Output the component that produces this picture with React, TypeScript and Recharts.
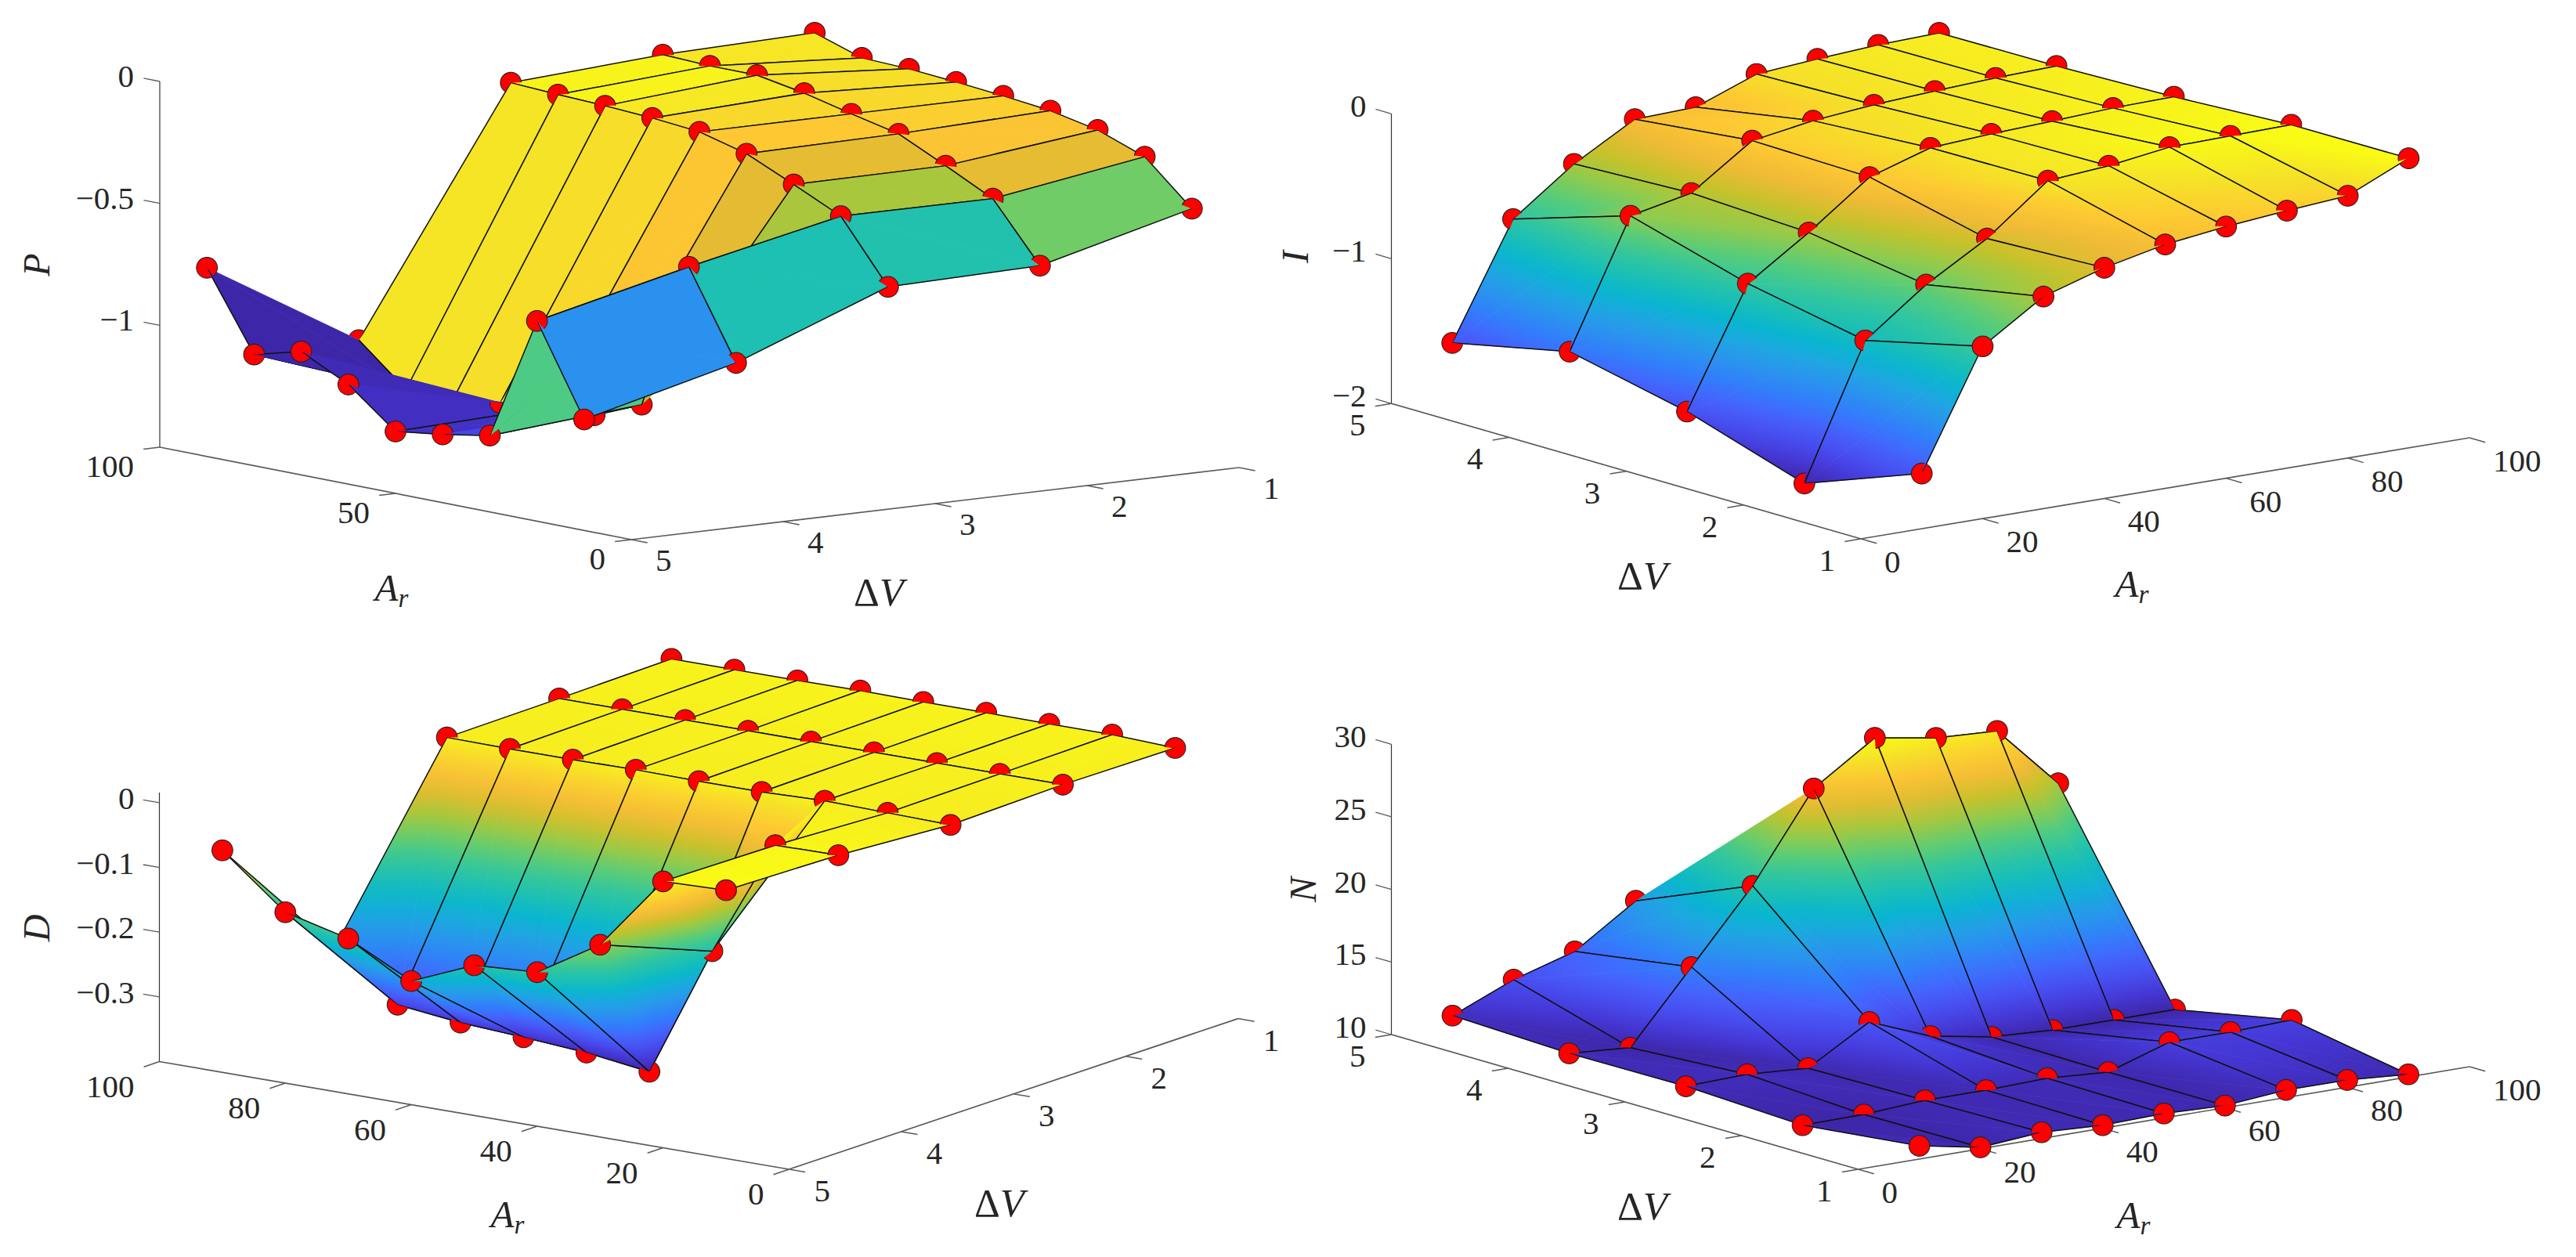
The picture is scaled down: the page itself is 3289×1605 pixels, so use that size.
import { Scatter, ScatterChart, XAxis, YAxis } from 'recharts';

const arValues = [10, 20, 30, 40, 50, 60, 70, 80, 90];
const dvValues = [1, 2, 3, 4, 5];

// surface heights, one row per dV (1..5), one column per Ar (10..90)
const pValues = [
  [-0.476, -0.301, -0.229, -0.188, -0.165, -0.146, -0.13, -0.123, -0.058],
  [-0.636, -0.399, -0.302, -0.209, -0.165, -0.118, -0.082, -0.082, -0.074],
  [-0.649, -0.397, -0.305, -0.217, -0.165, -0.146, -0.134, -0.126, -0.115],
  [-0.887, -0.531, -1.134, -1.215, -1.222, -1.24, -1.264, -1.262, -1.097],
  [-1.045, -0.679, -1.187, -1.22, -1.246, -1.091, -0.994, -1.044, -0.726],
];
const iValues = [
  [-1.619, -0.811, -0.537, -0.408, -0.317, -0.263, -0.223, -0.19, -0.001],
  [-1.921, -1.004, -0.688, -0.44, -0.11, -0.077, -0.018, -0.01, -0.003],
  [-1.658, -0.845, -0.562, -0.249, -0.117, -0.09, -0.072, -0.051, -0.043],
  [-1.478, -0.61, -0.523, -0.231, -0.163, -0.123, -0.098, -0.077, -0.064],
  [-1.651, -0.866, -0.555, -0.316, -0.303, -0.144, -0.109, -0.082, -0.069],
];
const dValues = [
  [0.0015, 0.0055, 0.0055, 0.006, 0.006, 0.007, 0.006, 0.006, 0.006],
  [0.003, 0.003, 0.003, 0.003, 0.003, 0.003, 0.003, 0.003, 0.003],
  [-0.001, 0.001, 0.003, 0, 0, 0.001, 0, 0, 0.001],
  [0.0104, 0.0092, -0.171, -0.374, -0.361, -0.354, -0.348, -0.337, -0.266],
  [0.0145, 0.0115, -0.103, -0.162, -0.168, -0.209, -0.16, -0.136, -0.057],
];
const nValues = [
  [10.91, 10.1, 10.43, 10.21, 10.31, 10.15, 10.52, 10.5, 10.18],
  [10.01, 10.04, 10.31, 10.3, 10.42, 10.13, 11.49, 11.48, 11.61],
  [10.37, 10.49, 10.2, 12.68, 11.0, 10.24, 10, 10, 10],
  [10.32, 10, 14.85, 19.74, 25.74, 28.52, 27.81, 27.58, 23.27],
  [10.6, 12.37, 13.61, 16.39, 15.2, 14, 13, 12.5, 12],
];

const parulaStops = [
  [62, 38, 168], [69, 55, 213], [72, 77, 240], [69, 99, 253], [50, 124, 252], [43, 145, 239],
  [32, 165, 227], [8, 181, 208], [25, 191, 182], [49, 198, 159], [87, 204, 122], [143, 203, 78],
  [197, 194, 42], [240, 186, 54], [254, 200, 51], [245, 227, 39], [249, 251, 21],
];

const serif = '"Liberation Serif", serif';
const markerRadius = 13.3;
const tickLength = 21;
// height counts for more than the plain view geometry when a marker is cut by the surface
const cutHeightWeight = 3;

type Vec = [number, number];

type Panel = {
  id: string;
  title: string;
  values: number[][];
  box: [number, number, number, number];
  origin: Vec;
  arVec: Vec;
  dvVec: Vec;
  zVec: Vec;
  nearDv: number;
  zDomain: [number, number];
  arTicks: number[];
  dvTicks: number[];
  zTicks: number[];
  flat: boolean;
  splitFromFirstCorner: boolean;
  hiddenCrossEdges: string[];
  arLabel: { dx: number; dy: number; anchor: string };
  dvLabel: { dx: number; dy: number; anchor: string };
  zLabel: { dx: number; dy: number };
  titlePos: Vec;
  arTitlePos: Vec;
  dvTitlePos: Vec;
};

const panels: Panel[] = [
  {
    id: 'p', title: 'P', values: pValues, box: [0, 0, 1660, 800],
    origin: [806, 689], arVec: [-602, -118], dvVec: [776, -92], zVec: [0, -467],
    nearDv: 5, zDomain: [-1.5, 0],
    arTicks: [0, 50, 100], dvTicks: [1, 2, 3, 4, 5], zTicks: [0, -0.5, -1],
    flat: true, splitFromFirstCorner: true, hiddenCrossEdges: ['3-8', '3-6', '3-5', '3-3'],
    arLabel: { dx: -33, dy: 38, anchor: 'end' }, dvLabel: { dx: 31, dy: 40, anchor: 'start' }, zLabel: { dx: -33, dy: 7 },
    titlePos: [48, 338], arTitlePos: [500, 752], dvTitlePos: [1122, 758],
  },
  {
    id: 'i', title: 'I', values: iValues, box: [1600, 0, 1689, 800],
    origin: [2376, 688], arVec: [777, -129], dvVec: [-599.5, -172.7], zVec: [0, -370],
    nearDv: 1, zDomain: [-2, 0],
    arTicks: [0, 20, 40, 60, 80, 100], dvTicks: [1, 2, 3, 4, 5], zTicks: [0, -1, -2],
    flat: false, splitFromFirstCorner: false, hiddenCrossEdges: [],
    arLabel: { dx: 30, dy: 43, anchor: 'start' }, dvLabel: { dx: -33, dy: 41, anchor: 'end' }, zLabel: { dx: -32, dy: 4 },
    titlePos: [1655, 328], arTitlePos: [2722, 747], dvTitlePos: [2097, 737],
  },
  {
    id: 'd', title: 'D', values: dValues, box: [0, 800, 1660, 805],
    origin: [1007.4, 1493], arVec: [-803.9, -137.5], dvVec: [573.4, -192.4], zVec: [0, -343.5],
    nearDv: 5, zDomain: [-0.4, 0.0156],
    arTicks: [0, 20, 40, 60, 80, 100], dvTicks: [1, 2, 3, 4, 5], zTicks: [0, -0.1, -0.2, -0.3],
    flat: false, splitFromFirstCorner: false, hiddenCrossEdges: [],
    arLabel: { dx: -32, dy: 45, anchor: 'end' }, dvLabel: { dx: 32, dy: 41, anchor: 'start' }, zLabel: { dx: -32, dy: 8 },
    titlePos: [48, 1185], arTitlePos: [648, 1552], dvTitlePos: [1276, 1538],
  },
  {
    id: 'n', title: 'N', values: nValues, box: [1600, 800, 1689, 805],
    origin: [2372.5, 1493], arVec: [780.5, -131], dvVec: [-596, -172], zVec: [0, -370.7],
    nearDv: 1, zDomain: [10, 30],
    arTicks: [0, 20, 40, 60, 80, 100], dvTicks: [1, 2, 3, 4, 5], zTicks: [10, 15, 20, 25, 30],
    flat: false, splitFromFirstCorner: false, hiddenCrossEdges: [],
    arLabel: { dx: 30, dy: 43, anchor: 'start' }, dvLabel: { dx: -33, dy: 41, anchor: 'end' }, zLabel: { dx: -32, dy: 4 },
    titlePos: [1665, 1136], arTitlePos: [2724, 1553], dvTitlePos: [2097, 1542],
  },
];

const parula = (f: number) => {
  const t = Math.min(Math.max(f, 0), 1) * (parulaStops.length - 1);
  const k = Math.min(Math.floor(t), parulaStops.length - 2);
  const w = t - k;
  const c = parulaStops[k].map((v, n) => Math.round(v + (parulaStops[k + 1][n] - v) * w));
  return `rgb(${c[0]},${c[1]},${c[2]})`;
};

const project = (p: Panel, ar: number, dv: number, z: number): Vec => {
  const farDv = p.nearDv === 5 ? 1 : 5;
  const ta = ar / 100;
  const tb = (dv - p.nearDv) / (farDv - p.nearDv);
  const tc = (z - p.zDomain[0]) / (p.zDomain[1] - p.zDomain[0]);
  return [
    p.origin[0] + ta * p.arVec[0] + tb * p.dvVec[0] + tc * p.zVec[0],
    p.origin[1] + ta * p.arVec[1] + tb * p.dvVec[1] + tc * p.zVec[1],
  ];
};

// depth row of the orthographic view, larger means closer to the camera
const depthRow = (p: Panel) => {
  const dot = (u: Vec, v: Vec) => u[0] * v[0] + u[1] * v[1];
  const ab = dot(p.arVec, p.dvVec);
  const ac = dot(p.arVec, p.zVec);
  const bc = dot(p.dvVec, p.zVec);
  const dc = Math.sqrt((ac * bc) / -ab);
  return { da: -ac / dc, db: -bc / dc, dc };
};

const makeGrid = (p: Panel) => {
  const { da, db, dc } = depthRow(p);
  const farDv = p.nearDv === 5 ? 1 : 5;
  return p.values.map((row, j) =>
    row.map((z, i) => {
      const [x, y] = project(p, arValues[i], dvValues[j], z);
      const base = (da * arValues[i]) / 100 + (db * (dvValues[j] - p.nearDv)) / (farDv - p.nearDv);
      const rise = (dc * (z - p.zDomain[0])) / (p.zDomain[1] - p.zDomain[0]);
      return { x, y, z, depth: base + rise, cutDepth: base + cutHeightWeight * rise };
    })
  );
};

type GridPoint = ReturnType<typeof makeGrid>[number][number];
type Cut = { start: number; sweep: number };

// screen angles of a vertex disc that a neighbouring triangle hides
const hiddenSector = (v: GridPoint, a: GridPoint, b: GridPoint): Cut | null => {
  const da = a.cutDepth - v.cutDepth;
  const db = b.cutDepth - v.cutDepth;
  if (da <= 0 && db <= 0) return null;
  const ang = (q: Vec) => Math.atan2(q[1], q[0]);
  const pa: Vec = [a.x - v.x, a.y - v.y];
  const pb: Vec = [b.x - v.x, b.y - v.y];
  let from = pa;
  let to = pb;
  if (da > 0 && db <= 0) {
    const t = da / (da - db);
    to = [pa[0] + t * (pb[0] - pa[0]), pa[1] + t * (pb[1] - pa[1])];
  } else if (da <= 0 && db > 0) {
    const t = db / (db - da);
    from = pb;
    to = [pb[0] + t * (pa[0] - pb[0]), pb[1] + t * (pa[1] - pb[1])];
  }
  const start = ang(from);
  let sweep = ang(to) - start;
  while (sweep > Math.PI) sweep -= 2 * Math.PI;
  while (sweep < -Math.PI) sweep += 2 * Math.PI;
  return sweep < 0 ? { start: start + sweep, sweep: -sweep } : { start, sweep };
};

const isHidden = (theta: number, cuts: Cut[]) =>
  cuts.some((c) => {
    let d = theta - c.start;
    while (d < 0) d += 2 * Math.PI;
    while (d >= 2 * Math.PI) d -= 2 * Math.PI;
    return d < c.sweep;
  });

const Marker = (props: any) => {
  const { cx, cy, payload } = props;
  const cuts = payload.cuts;
  if (!cuts.length) {
    return <circle cx={cx} cy={cy} r={markerRadius} fill='#ff0000' stroke='#222' strokeWidth={1.1} />;
  }
  // pie outline with the hidden sectors pulled in to the centre, rim stroked only where visible
  const fillPts: string[] = [];
  let rim = '';
  let wasOpen = false;
  for (let deg = 0; deg <= 360; deg += 2) {
    const th = (deg * Math.PI) / 180;
    const hidden = isHidden(th, cuts);
    const px = cx + markerRadius * Math.cos(th);
    const py = cy + markerRadius * Math.sin(th);
    fillPts.push(hidden ? `${cx},${cy}` : `${px},${py}`);
    if (!hidden) {
      rim += `${wasOpen ? 'L' : 'M'}${px} ${py}`;
      wasOpen = true;
    } else {
      wasOpen = false;
    }
  }
  return (
    <g>
      <polygon points={fillPts.join(' ')} fill='#ff0000' />
      <path d={rim} fill='none' stroke='#222' strokeWidth={1.1} />
    </g>
  );
};

const AxisText = (props: any) => {
  const { cx, cy, payload } = props;
  return (
    <text x={cx} y={cy} textAnchor={payload.anchor} fontFamily={serif} fontSize={41} fill='#262626'>
      {payload.text}
    </text>
  );
};

const ArTitle = (props: any) => (
  <text x={props.cx} y={props.cy + 15} textAnchor='middle' fontFamily={serif} fontSize={49} fontStyle='italic' fill='#262626'>
    A
    <tspan fontSize={33} dy={8}>r</tspan>
  </text>
);

const DvTitle = (props: any) => (
  <text x={props.cx} y={props.cy + 15} textAnchor='middle' fontFamily={serif} fontSize={51} fill='#262626'>
    Δ
    <tspan fontStyle='italic'>V</tspan>
  </text>
);

const ZTitle = (props: any) => (
  <text
    x={props.cx}
    y={props.cy + 15}
    textAnchor='middle'
    fontFamily={serif}
    fontSize={48}
    fontStyle='italic'
    fill='#262626'
    transform={`rotate(-90 ${props.cx} ${props.cy})`}
  >
    {props.payload.text}
  </text>
);

const NoPoint = () => <g />;

// one gouraud triangle: a linear gradient across the screen plane of the values
const shadedTriangle = (id: string, pts: any[], vals: number[], toF: (v: number) => number) => {
  const [p0, p1, p2] = pts;
  const e1 = [p1.x - p0.x, p1.y - p0.y];
  const e2 = [p2.x - p0.x, p2.y - p0.y];
  const d1 = vals[1] - vals[0];
  const d2 = vals[2] - vals[0];
  const det = e1[0] * e2[1] - e2[0] * e1[1];
  const poly = pts.map((q) => `${q.x},${q.y}`).join(' ');
  const lo = Math.min(...vals);
  const hi = Math.max(...vals);
  if (Math.abs(det) < 1e-6 || hi - lo < 1e-9) {
    const c = parula(toF(vals[0]));
    return <polygon points={poly} fill={c} stroke={c} strokeWidth={0.7} />;
  }
  const gx = (d1 * e2[1] - d2 * e1[1]) / det;
  const gy = (e1[0] * d2 - e2[0] * d1) / det;
  const g2 = gx * gx + gy * gy;
  const m = pts[vals.indexOf(lo)];
  const stops = [];
  for (let k = 0; k <= 14; k++) {
    const v = lo + ((hi - lo) * k) / 14;
    stops.push(<stop key={k} offset={k / 14} stopColor={parula(toF(v))} />);
  }
  return (
    <>
      <defs>
        <linearGradient
          id={id}
          gradientUnits='userSpaceOnUse'
          x1={m.x}
          y1={m.y}
          x2={m.x + (gx * (hi - lo)) / g2}
          y2={m.y + (gy * (hi - lo)) / g2}
        >
          {stops}
        </linearGradient>
      </defs>
      <polygon points={poly} fill={`url(#${id})`} stroke={`url(#${id})`} strokeWidth={0.7} />
    </>
  );
};

// corners of a face run (i,j) (i+1,j) (i+1,j+1) (i,j+1); the first index of a triangle is where its two outer edges meet
const splitA = [[0, 1, 3], [2, 3, 1]];
const splitB = [[1, 2, 0], [3, 0, 2]];

function PanelChart({ panel }: { panel: Panel }) {
  const grid = makeGrid(panel);
  const flatVals = panel.values.flat();
  const cMin = Math.min(...flatVals);
  const cMax = Math.max(...flatVals);
  const toF = (v: number) => (v - cMin) / (cMax - cMin);
  const split = panel.splitFromFirstCorner ? splitB : splitA;

  // far to near so that nearer faces paint over farther ones
  const faceOrder: [number, number][] = [];
  const jOrder = panel.nearDv === 5 ? [0, 1, 2, 3] : [3, 2, 1, 0];
  for (let i = arValues.length - 2; i >= 0; i--) {
    for (const j of jOrder) faceOrder.push([i, j]);
  }

  const cutsFor = grid.map((row) => row.map(() => [] as Cut[]));
  const lastFace = grid.map((row) => row.map(() => -1));
  faceOrder.forEach(([i, j], k) => {
    const at: [number, number][] = [[j, i], [j, i + 1], [j + 1, i + 1], [j + 1, i]];
    const pt = (q: number) => grid[at[q][0]][at[q][1]];
    split.forEach((tri) => {
      tri.forEach((q, n) => {
        const s = hiddenSector(pt(q), pt(tri[(n + 1) % 3]), pt(tri[(n + 2) % 3]));
        if (s) cutsFor[at[q][0]][at[q][1]].push(s);
      });
    });
    at.forEach(([jv, iv]) => {
      lastFace[jv][iv] = k;
    });
  });

  const markersAfter = (k: number) => {
    const out: any[] = [];
    grid.forEach((row, j) =>
      row.forEach((pt, i) => {
        if (lastFace[j][i] === k) out.push({ x: pt.x, y: pt.y, cuts: cutsFor[j][i] });
      })
    );
    return out;
  };

  const renderFace = (i: number, j: number, k: number) => (lineProps: any) => {
    const pts = lineProps.points;
    const z = [grid[j][i].z, grid[j][i + 1].z, grid[j + 1][i + 1].z, grid[j + 1][i].z];
    const dep = [grid[j][i].depth, grid[j][i + 1].depth, grid[j + 1][i + 1].depth, grid[j + 1][i].depth];
    const skip = (a: number, b: number) => {
      const cross = (a === 0 && b === 3) || (a === 3 && b === 0) ? i : (a === 1 && b === 2) || (a === 2 && b === 1) ? i + 1 : -1;
      return cross >= 0 && panel.hiddenCrossEdges.includes(`${j}-${cross}`);
    };
    const tris = split.map((idx) => ({ idx, d: idx.reduce((s, q) => s + dep[q], 0) })).sort((a, b) => a.d - b.d);
    return (
      <g>
        {tris.map((t, n) => {
          const tp = t.idx.map((q) => pts[q]);
          const tv = t.idx.map((q) => z[q]);
          const poly = tp.map((q: any) => `${q.x},${q.y}`).join(' ');
          const flatColor = parula(toF(z[0]));
          const [c, a, b] = t.idx;
          return (
            <g key={n}>
              {panel.flat ? (
                <polygon points={poly} fill={flatColor} stroke={flatColor} strokeWidth={0.7} />
              ) : (
                shadedTriangle(`${panel.id}-${k}-${n}`, tp, tv, toF)
              )}
              {[a, b]
                .filter((q) => !skip(c, q))
                .map((q) => (
                  <line key={q} x1={pts[c].x} y1={pts[c].y} x2={pts[q].x} y2={pts[q].y} stroke='#111' strokeWidth={1.5} strokeLinecap='round' />
                ))}
            </g>
          );
        })}
      </g>
    );
  };

  const [left, top, width, height] = panel.box;
  const corner = (ar: number, dv: number) => project(panel, ar, dv, panel.zDomain[0]);
  const unit = (v: Vec): Vec => {
    const l = Math.hypot(v[0], v[1]);
    return [(v[0] / l) * tickLength, (v[1] / l) * tickLength];
  };
  const arDir = unit(panel.arVec);
  const dvDir = unit(panel.dvVec);
  const farDv = panel.nearDv === 5 ? 1 : 5;
  const zAtAr = panel.nearDv === 5;
  const zBase = zAtAr ? corner(100, panel.nearDv) : corner(0, farDv);
  const zTickDir = zAtAr ? arDir : dvDir;
  const zPoint = (z: number): Vec => project(panel, zAtAr ? 100 : 0, zAtAr ? panel.nearDv : farDv, z);

  const axisLines: { data: { x: number; y: number }[]; stroke: string; w: number }[] = [];
  const seg = (a: Vec, b: Vec, stroke: string, w: number) =>
    axisLines.push({ data: [{ x: a[0], y: a[1] }, { x: b[0], y: b[1] }], stroke, w });
  seg(corner(0, panel.nearDv), corner(100, panel.nearDv), '#5a5a5a', 1.7);
  seg(corner(0, panel.nearDv), corner(0, farDv), '#5a5a5a', 1.7);
  seg(zBase, [zBase[0], zPoint(panel.zDomain[1])[1]], '#333', 1.2);
  panel.arTicks.forEach((t) => {
    const q = corner(t, panel.nearDv);
    seg(q, [q[0] - dvDir[0], q[1] - dvDir[1]], '#5a5a5a', 1.5);
  });
  panel.dvTicks.forEach((t) => {
    const q = corner(0, t);
    seg(q, [q[0] - arDir[0], q[1] - arDir[1]], '#5a5a5a', 1.5);
  });
  panel.zTicks.forEach((t) => {
    const q = zPoint(t);
    seg(q, [q[0] + zTickDir[0], q[1] + zTickDir[1]], '#5a5a5a', 1.3);
  });

  const fmt = (v: number) => String(v).replace('-', '\u2212');
  const tickText = [
    ...panel.arTicks.map((t) => {
      const q = corner(t, panel.nearDv);
      return { x: q[0] + panel.arLabel.dx, y: q[1] + panel.arLabel.dy, text: fmt(t), anchor: panel.arLabel.anchor };
    }),
    ...panel.dvTicks.map((t) => {
      const q = corner(0, t);
      return { x: q[0] + panel.dvLabel.dx, y: q[1] + panel.dvLabel.dy, text: fmt(t), anchor: panel.dvLabel.anchor };
    }),
    ...panel.zTicks.map((t) => {
      const q = zPoint(t);
      return { x: q[0] + panel.zLabel.dx, y: q[1] + panel.zLabel.dy, text: fmt(t), anchor: 'end' };
    }),
  ];

  return (
    <div style={{ position: 'absolute', left, top, width, height }}>
      <ScatterChart width={width} height={height} margin={{ top: 0, right: 0, bottom: 0, left: 0 }}>
        <XAxis type='number' dataKey='x' domain={[left, left + width]} hide />
        <YAxis type='number' dataKey='y' domain={[top, top + height]} reversed hide />
        {axisLines.map((l, n) => (
          <Scatter
            key={`axis-${n}`}
            data={l.data}
            line={{ stroke: l.stroke, strokeWidth: l.w }}
            shape={NoPoint}
            isAnimationActive={false}
          />
        ))}
        <Scatter data={tickText} shape={AxisText} isAnimationActive={false} />
        <Scatter data={[{ x: panel.titlePos[0], y: panel.titlePos[1], text: panel.title }]} shape={ZTitle} isAnimationActive={false} />
        <Scatter data={[{ x: panel.arTitlePos[0], y: panel.arTitlePos[1] }]} shape={ArTitle} isAnimationActive={false} />
        <Scatter data={[{ x: panel.dvTitlePos[0], y: panel.dvTitlePos[1] }]} shape={DvTitle} isAnimationActive={false} />
        {faceOrder.map(([i, j], k) => [
          <Scatter
            key={`face-${k}`}
            data={[grid[j][i], grid[j][i + 1], grid[j + 1][i + 1], grid[j + 1][i]]}
            line={renderFace(i, j, k)}
            shape={NoPoint}
            isAnimationActive={false}
          />,
          <Scatter key={`dots-${k}`} data={markersAfter(k)} shape={Marker} isAnimationActive={false} />,
        ])}
      </ScatterChart>
    </div>
  );
}

export default function App() {
  return (
    <div style={{ position: 'absolute', left: 0, top: 0, width: 3289, height: 1605, background: '#fff' }}>
      {panels.map((p) => (
        <PanelChart key={p.id} panel={p} />
      ))}
    </div>
  );
}
